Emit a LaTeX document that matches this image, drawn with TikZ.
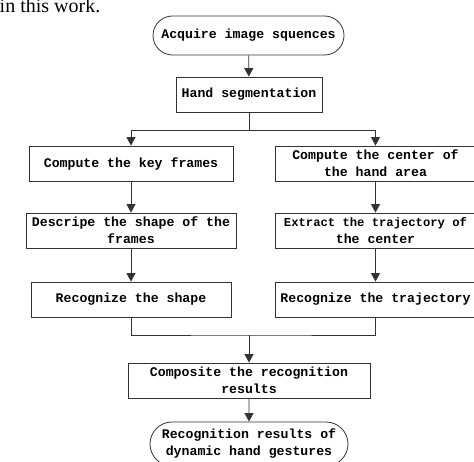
\documentclass[tikz,border=0pt]{standalone}
\usepackage{fontspec}
\setmainfont{Liberation Serif}
\newfontfamily\boxfont{Liberation Mono}
\usetikzlibrary{arrows.meta,shapes.misc}
\tikzset{
  box/.style={draw=black!80, line width=0.8pt, rectangle, inner sep=0pt, align=center,
    font=\boxfont\bfseries\fontsize{13.2}{17}\selectfont},
  term/.style={box, rounded rectangle},
  line/.style={draw=black!80, line width=0.8pt},
  arr/.style={line, -{Triangle[length=8.5pt,width=9pt]}},
}
\begin{document}
\begin{tikzpicture}[x=1pt,y=-1pt]
\useasboundingbox (0,0) rectangle (474,462);
\clip (0,0) rectangle (474,462);
\node[anchor=base west, inner sep=0pt, font=\fontsize{20}{22}\selectfont] (cap) at (-0.5,12.5) {in this work.};
\node[term, minimum width=191pt, minimum height=39pt] (start) at (248.5,35.5) {Acquire image squences};
\node[box, minimum width=146pt, minimum height=35pt] (seg) at (249,94.5) {Hand segmentation};
\node[box, minimum width=204pt, minimum height=35pt] (kf) at (131,163.5) {Compute the key frames};
\node[box, minimum width=201pt, minimum height=35pt] (cc) at (375.5,163.5) {Compute the center of\\the hand area};
\node[box, minimum width=210pt, minimum height=35pt] (ds) at (131,230.5) {Descripe the shape of the\\frames};
\node[box, minimum width=201pt, minimum height=35pt] (ex) at (375.5,230.5) {{\fontsize{12.2}{17}\selectfont Extract the trajectory of}\\the center};
\node[box, minimum width=200pt, minimum height=35pt] (rs) at (131,299.5) {Recognize the shape};
\node[box, minimum width=201pt, minimum height=35pt] (rt) at (375.5,299.5) {Recognize the trajectory};
\node[box, minimum width=242pt, minimum height=35pt] (comp) at (249,380.5) {Composite the recognition\\results};
\node[term, minimum width=198pt, minimum height=44pt] (end) at (249,444) {Recognition results of\\dynamic hand gestures};
\coordinate (j1) at (249,130);
\coordinate (j2) at (249,335);
\draw[arr] (start) -- (seg);
\draw[line] (seg.south) -- (j1);
\draw[arr] (j1) -| (kf.north);
\draw[arr] (j1) -| (cc.north);
\draw[arr] (kf) -- (ds);
\draw[arr] (ds) -- (rs);
\draw[arr] (cc) -- (ex);
\draw[arr] (ex) -- (rt);
\draw[line] (rs.south) |- (j2) -| (rt.south);
\draw[arr] (j2) -- (comp.north);
\draw[arr] (comp) -- (end);
\end{tikzpicture}
\end{document}
